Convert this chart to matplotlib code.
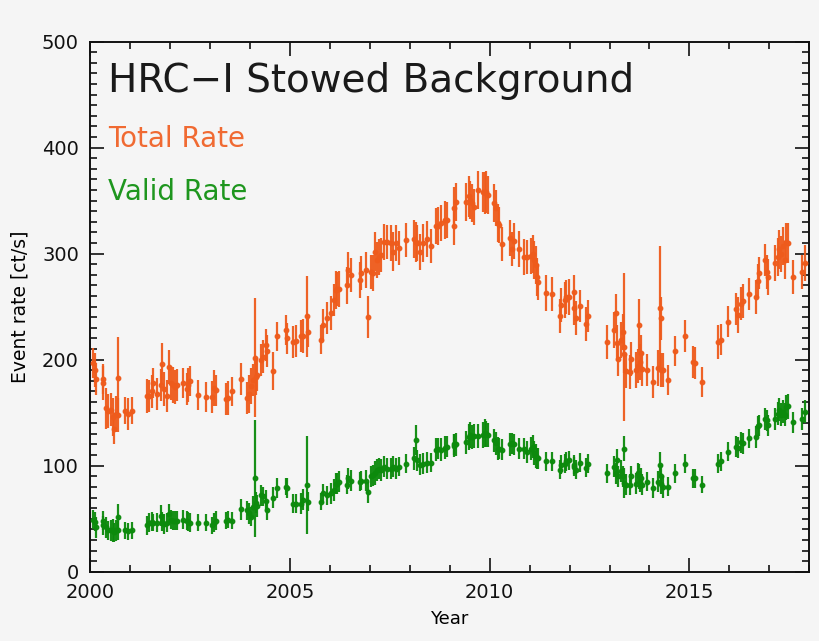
import numpy as np
import matplotlib
matplotlib.use("Agg")
import matplotlib.pyplot as plt
from matplotlib.ticker import MultipleLocator

# HRC-I stowed background: observation epoch, total rate, valid rate (ct/s)
years = [
    2000.08, 2000.12, 2000.15, 2000.32, 2000.33, 2000.40, 2000.46, 2000.52, 2000.58, 2000.61,
    2000.65, 2000.69, 2000.71, 2000.88, 2000.94, 2001.04, 2001.43, 2001.48, 2001.54, 2001.58,
    2001.67, 2001.77, 2001.81, 2001.84, 2001.93, 2001.98, 2002.02, 2002.07, 2002.12, 2002.18,
    2002.33, 2002.42, 2002.46, 2002.50, 2002.71, 2002.89, 2003.04, 2003.10, 2003.15, 2003.40,
    2003.46, 2003.56, 2003.79, 2003.93, 2003.98, 2004.02, 2004.07, 2004.12, 2004.15, 2004.18,
    2004.27, 2004.33, 2004.40, 2004.43, 2004.57, 2004.68, 2004.90, 2004.93, 2005.07, 2005.15,
    2005.27, 2005.32, 2005.42, 2005.46, 2005.77, 2005.82, 2005.92, 2006.02, 2006.10, 2006.15,
    2006.18, 2006.23, 2006.42, 2006.46, 2006.54, 2006.75, 2006.79, 2006.90, 2006.96, 2007.02,
    2007.07, 2007.12, 2007.17, 2007.23, 2007.29, 2007.35, 2007.43, 2007.52, 2007.57, 2007.65,
    2007.73, 2007.90, 2008.10, 2008.15, 2008.18, 2008.25, 2008.33, 2008.43, 2008.52, 2008.65,
    2008.71, 2008.79, 2008.88, 2008.93, 2009.10, 2009.12, 2009.17, 2009.40, 2009.48, 2009.52,
    2009.57, 2009.60, 2009.71, 2009.83, 2009.88, 2009.92, 2009.96, 2010.12, 2010.17, 2010.21,
    2010.23, 2010.32, 2010.52, 2010.57, 2010.60, 2010.73, 2010.85, 2010.93, 2011.04, 2011.08,
    2011.12, 2011.15, 2011.18, 2011.21, 2011.40, 2011.57, 2011.75, 2011.79, 2011.88, 2011.90,
    2011.98, 2012.10, 2012.12, 2012.15, 2012.27, 2012.40, 2012.46, 2012.93, 2013.12, 2013.17,
    2013.18, 2013.21, 2013.29, 2013.33, 2013.35, 2013.37, 2013.42, 2013.50, 2013.54, 2013.67,
    2013.71, 2013.73, 2013.75, 2013.79, 2013.82, 2013.94, 2014.10, 2014.21, 2014.27, 2014.28,
    2014.29, 2014.35, 2014.46, 2014.65, 2014.88, 2015.10, 2015.15, 2015.32, 2015.71, 2015.79,
    2015.96, 2016.17, 2016.21, 2016.29, 2016.35, 2016.48, 2016.67, 2016.71, 2016.75, 2016.88,
    2016.93, 2016.97, 2017.15, 2017.21, 2017.25, 2017.29, 2017.33, 2017.38, 2017.42, 2017.46,
    2017.58, 2017.82, 2017.88,
]

total_rate = [
    197, 190, 182, 182, 178, 154, 152, 153, 146, 135,
    149, 183, 148, 152, 149, 152, 166, 166, 170, 178,
    168, 176, 196, 172, 166, 193, 178, 176, 174, 176,
    178, 172, 176, 180, 167, 165, 165, 173, 171, 163,
    164, 170, 182, 164, 168, 175, 181, 202, 184, 186,
    200, 203, 214, 208, 189, 222, 228, 220, 217, 218,
    222, 222, 241, 226, 219, 233, 239, 244, 256, 266,
    267, 267, 270, 285, 280, 275, 282, 285, 240, 283,
    282, 302, 294, 297, 299, 311, 311, 310, 302, 310,
    305, 313, 314, 311, 310, 302, 310, 314, 307, 326,
    326, 329, 332, 332, 326, 343, 349, 349, 354, 351,
    348, 344, 360, 358, 357, 358, 355, 348, 343, 329,
    327, 309, 315, 304, 312, 304, 297, 297, 298, 300,
    294, 289, 278, 273, 263, 262, 241, 252, 256, 259,
    259, 249, 264, 239, 251, 234, 241, 217, 228, 244,
    216, 201, 219, 226, 212, 205, 189, 188, 201, 190,
    194, 233, 198, 206, 191, 190, 179, 192, 249, 239,
    190, 190, 181, 208, 222, 198, 197, 179, 217, 219,
    236, 248, 242, 253, 255, 262, 259, 274, 282, 294,
    283, 278, 291, 297, 304, 300, 307, 294, 311, 310,
    278, 283, 291,
]

total_err = [
    14, 16, 15, 14, 16, 19, 16, 16, 18, 15,
    17, 38, 16, 13, 15, 13, 16, 15, 16, 14,
    15, 15, 20, 16, 15, 16, 16, 17, 16, 15,
    14, 15, 16, 14, 14, 14, 15, 17, 15, 15,
    16, 14, 15, 15, 18, 17, 15, 56, 17, 16,
    15, 16, 15, 15, 18, 14, 14, 15, 15, 15,
    15, 16, 38, 14, 14, 15, 15, 16, 15, 18,
    16, 17, 17, 17, 16, 17, 16, 17, 20, 16,
    17, 18, 17, 17, 16, 17, 16, 17, 18, 17,
    16, 16, 18, 19, 17, 17, 18, 17, 16, 17,
    18, 17, 18, 17, 18, 20, 18, 18, 19, 18,
    18, 17, 18, 19, 20, 20, 18, 18, 17, 18,
    17, 16, 17, 16, 17, 17, 17, 16, 17, 18,
    18, 18, 18, 17, 17, 16, 16, 16, 17, 16,
    17, 16, 16, 16, 15, 16, 15, 16, 17, 18,
    17, 16, 17, 17, 70, 18, 16, 16, 16, 17,
    16, 24, 17, 17, 16, 15, 15, 17, 58, 20,
    16, 16, 14, 14, 15, 15, 15, 14, 16, 15,
    15, 15, 17, 16, 16, 15, 16, 16, 15, 15,
    16, 17, 17, 18, 18, 17, 18, 18, 18, 19,
    16, 16, 17,
]

valid_rate = [
    49, 47, 42, 48, 44, 42, 39, 39, 39, 37,
    39, 52, 39, 39, 38, 39, 44, 46, 47, 46,
    46, 53, 47, 45, 46, 54, 49, 48, 48, 48,
    49, 48, 47, 46, 46, 46, 44, 46, 48, 48,
    49, 48, 59, 58, 55, 52, 61, 88, 65, 62,
    72, 71, 67, 58, 70, 79, 80, 79, 64, 64,
    64, 68, 82, 66, 66, 74, 72, 74, 77, 83,
    83, 85, 82, 88, 86, 85, 86, 86, 75, 90,
    91, 93, 96, 97, 96, 99, 97, 97, 99, 97,
    99, 102, 107, 124, 105, 101, 102, 103, 103, 115,
    116, 115, 117, 118, 120, 119, 120, 122, 127, 129,
    127, 128, 128, 129, 131, 130, 129, 124, 121, 116,
    116, 115, 120, 121, 120, 116, 116, 113, 116, 118,
    112, 109, 107, 107, 104, 104, 96, 101, 102, 104,
    105, 101, 99, 96, 103, 98, 102, 93, 99, 93,
    105, 90, 95, 90, 116, 84, 82, 82, 90, 83,
    93, 90, 85, 88, 82, 85, 79, 85, 101, 90,
    83, 80, 80, 93, 102, 88, 88, 82, 102, 104,
    113, 118, 117, 122, 121, 126, 127, 137, 138, 144,
    143, 138, 144, 149, 153, 148, 151, 148, 155, 156,
    141, 144, 151,
]

valid_err = [
    9, 9, 10, 9, 9, 10, 9, 10, 11, 9,
    10, 12, 9, 8, 8, 8, 9, 9, 9, 8,
    9, 10, 9, 9, 9, 10, 9, 9, 9, 9,
    9, 9, 9, 9, 8, 8, 8, 9, 9, 8,
    8, 8, 10, 9, 10, 9, 10, 55, 10, 10,
    10, 9, 10, 9, 10, 9, 8, 9, 9, 9,
    10, 10, 46, 9, 8, 9, 9, 10, 10, 10,
    10, 10, 9, 10, 10, 9, 9, 10, 10, 10,
    10, 11, 10, 10, 10, 10, 10, 10, 10, 10,
    9, 9, 11, 14, 10, 10, 10, 10, 9, 11,
    10, 11, 11, 10, 10, 11, 11, 11, 12, 12,
    11, 11, 11, 12, 13, 12, 11, 11, 11, 11,
    10, 10, 11, 10, 10, 10, 10, 10, 11, 11,
    11, 11, 10, 10, 9, 9, 9, 9, 9, 9,
    9, 9, 9, 9, 9, 9, 9, 9, 10, 10,
    11, 10, 10, 10, 12, 14, 10, 10, 10, 10,
    10, 12, 10, 10, 10, 9, 9, 10, 12, 11,
    10, 10, 9, 9, 9, 9, 9, 8, 9, 9,
    9, 10, 10, 10, 10, 9, 10, 10, 10, 10,
    10, 10, 10, 11, 11, 11, 11, 11, 12, 12,
    10, 10, 11,
]

ORANGE = '#ee5b1c'
GREEN = '#0c8a0c'
BG = '#f5f5f5'

plt.rcParams['font.family'] = ['DejaVu Sans']

fig = plt.figure(figsize=(8.2, 6.41), dpi=100, facecolor=BG)
ax = fig.add_axes([0.1098, 0.1081, 0.8772, 0.8269])
ax.set_facecolor(BG)

ax.errorbar(years, total_rate, yerr=total_err, fmt='o', ms=3.2, color=ORANGE,
            ecolor=ORANGE, elinewidth=1.6, capsize=0, alpha=0.95, zorder=3)
ax.errorbar(years, valid_rate, yerr=valid_err, fmt='o', ms=3.2, color=GREEN,
            ecolor=GREEN, elinewidth=1.6, capsize=0, alpha=0.95, zorder=3)

ax.set_xlim(2000, 2018)
ax.set_ylim(0, 500)
ax.xaxis.set_major_locator(MultipleLocator(5))
ax.xaxis.set_minor_locator(MultipleLocator(1))
ax.yaxis.set_major_locator(MultipleLocator(100))
ax.yaxis.set_minor_locator(MultipleLocator(10))
ax.tick_params(which='both', direction='in', top=True, right=True, width=1.2,
               colors='#111111', labelsize=14)
ax.tick_params(which='major', length=10, pad=8)
ax.tick_params(which='minor', length=5)
for sp in ax.spines.values():
    sp.set_linewidth(1.4)
    sp.set_color('#111111')

ax.set_xlabel('Year', fontsize=13, labelpad=6)
ax.set_ylabel('Event rate [ct/s]', fontsize=13.5, labelpad=9)

ax.text(0.025, 0.925, 'HRC\u2212I Stowed Background', transform=ax.transAxes,
        fontsize=28, color='#1a1a1a', va='center', ha='left')
ax.text(0.025, 0.817, 'Total Rate', transform=ax.transAxes,
        fontsize=20, color='#f06a32', va='center', ha='left')
ax.text(0.025, 0.717, 'Valid Rate', transform=ax.transAxes,
        fontsize=20, color='#1e961e', va='center', ha='left')

fig.savefig('out.png', dpi=100, facecolor=BG)
